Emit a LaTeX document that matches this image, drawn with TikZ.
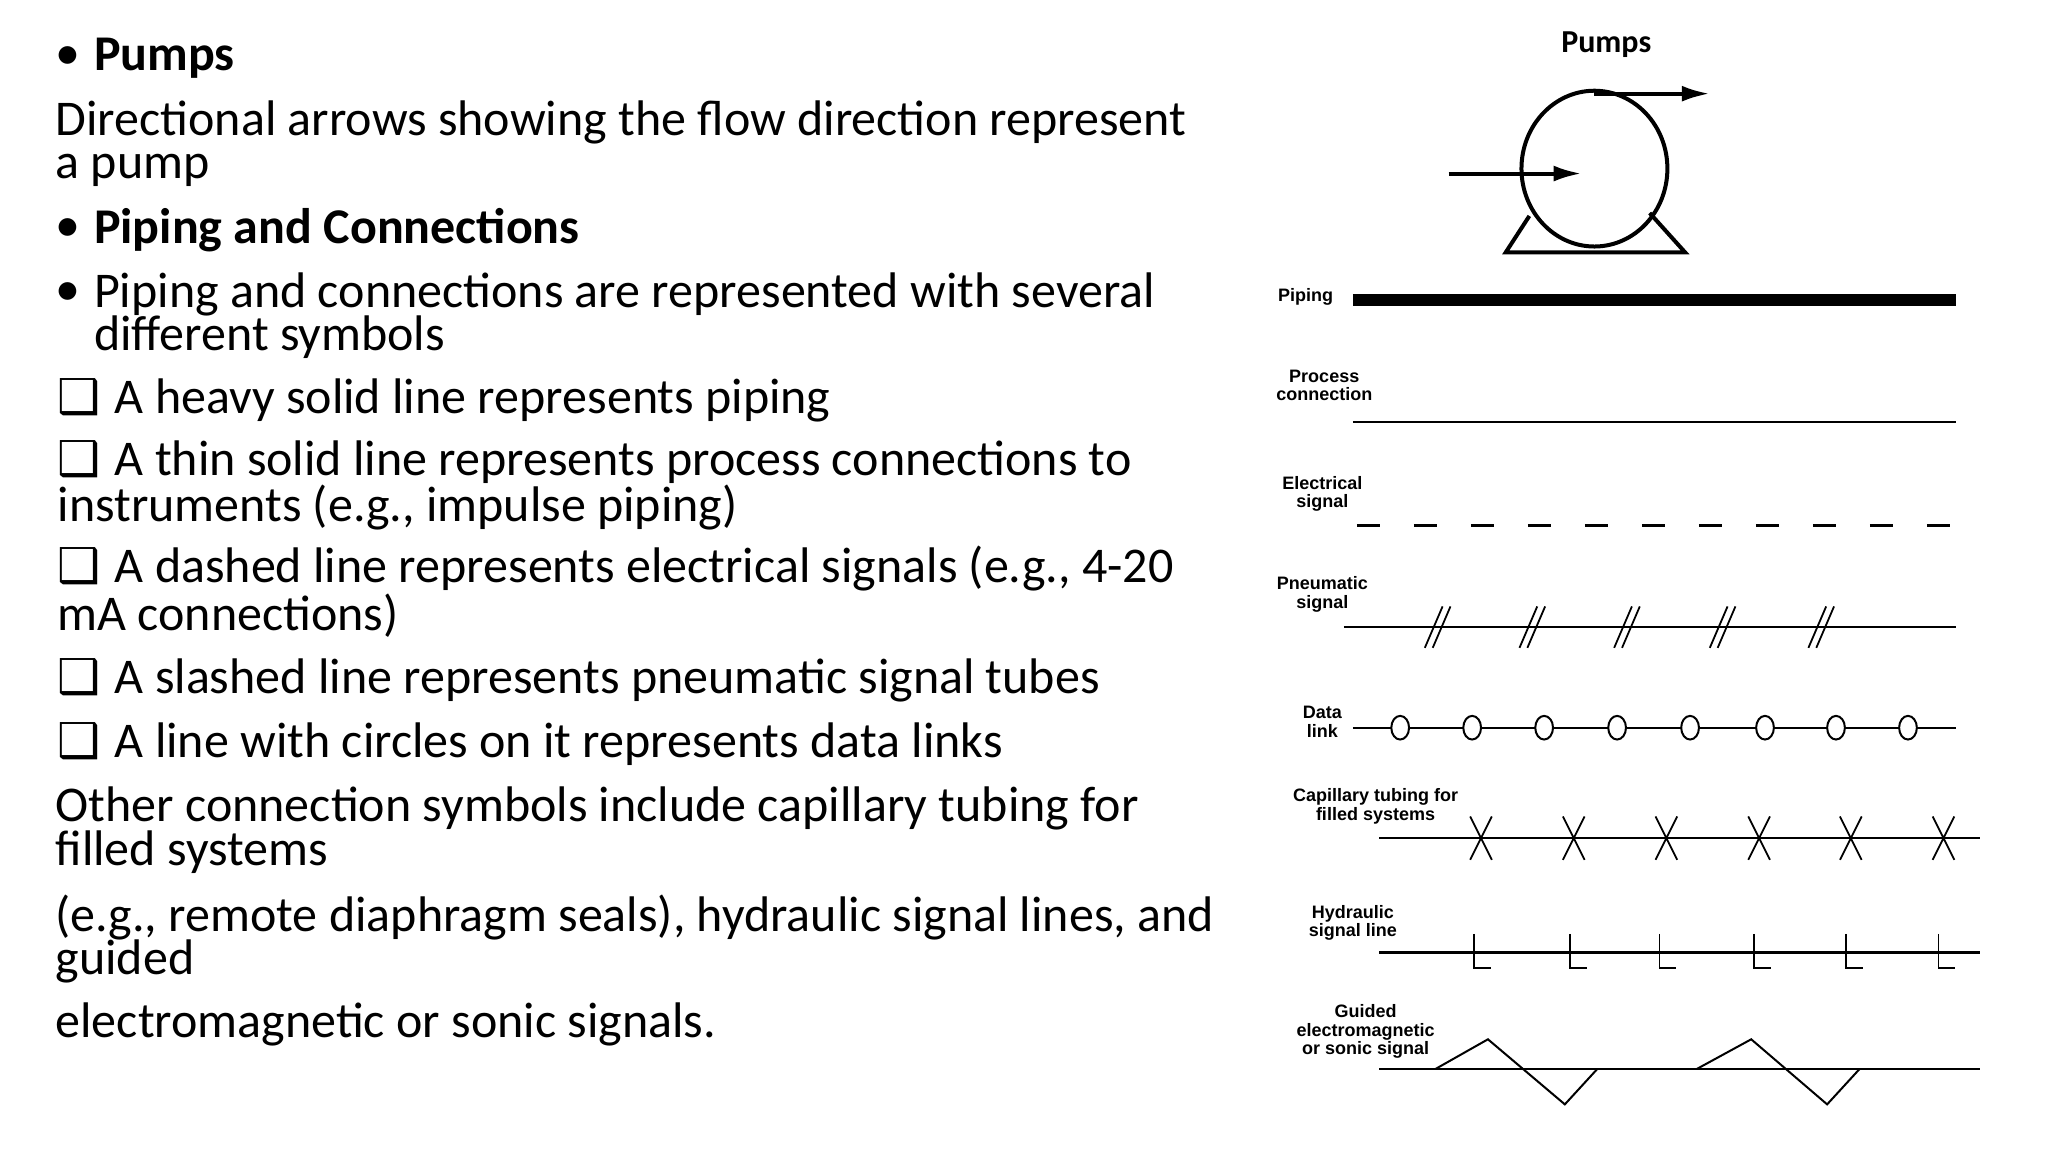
\documentclass[tikz,border=0pt]{standalone}
\usepackage{fontspec}
\setmainfont{Carlito}
\newfontfamily\lab{Liberation Sans}
\newfontfamily\djv{DejaVu Sans}
\usetikzlibrary{arrows.meta}
\newcommand{\qbox}{\makebox[28.6pt][l]{\djv\fontsize{24}{24}\selectfont ❑}}
\begin{document}
\begin{tikzpicture}[x=0.493pt,y=-0.493pt,
  txt/.style={anchor=west,inner sep=0pt,align=left,font=\fontsize{25}{21.7}\selectfont},
  lbl/.style={align=center,inner sep=0pt,font=\lab\bfseries\fontsize{9}{9.3}\selectfont},
  sig/.style={line width=1.2pt},
  pump/.style={line width=2pt}]
\useasboundingbox[fill=white] (0,0) rectangle (2077,1168);
% left text
\node[txt] (b1) at (56,59) {•};
\node[txt,font=\bfseries\fontsize{25}{26}\selectfont] (t1) at (95,59) {Pumps};
\node[txt] (t2) at (56,146) {Directional arrows showing the flow direction represent\\a pump};
\node[txt] (b4) at (56,233) {•};
\node[txt,font=\bfseries\fontsize{25}{26}\selectfont] (t4) at (95,233) {Piping and Connections};
\node[txt] (b5) at (56,298) {•};
\node[txt] (t5) at (95,320) {Piping and connections are represented with several\\different symbols};
\node[txt] (s1) at (58,406) {\qbox A heavy solid line represents piping};
\node[txt] (s2) at (58,492) {\qbox A thin solid line represents process connections to\\instruments (e.g., impulse piping)};
\node[txt] (s3) at (58,600) {\qbox A dashed line represents electrical signals (e.g., 4-20\\mA connections)};
\node[txt] (s4) at (58,690) {\qbox A slashed line represents pneumatic signal tubes};
\node[txt] (s5) at (58,755) {\qbox A line with circles on it represents data links};
\node[txt] (t14) at (56,842) {Other connection symbols include capillary tubing for\\filled systems};
\node[txt] (t16) at (56,952) {(e.g., remote diaphragm seals), hydraulic signal lines, and\\guided};
\node[txt] (t18) at (56,1039) {electromagnetic or sonic signals.};
% pump
\node[font=\bfseries\fontsize{16}{18}\selectfont] (pt) at (1629,45) {Pumps};
\draw[pump] (1617,171) ellipse [x radius=74, y radius=79];
\draw[pump] (1551,219) -- (1527,256) -- (1709,256) -- (1673,216);
\draw[pump,-{Latex[length=14pt,width=8pt]}] (1617,95) -- (1734,95);
\draw[pump,-{Latex[length=14pt,width=8pt]}] (1469,176) -- (1604,176);
% piping
\node[lbl] (l1) at (1324,301) {Piping};
\draw[line width=6pt] (1372,304) -- (1984,304);
\node[lbl] (l2) at (1343,391) {Process\\connection};
\draw[sig] (1372,428) -- (1984,428);
\node[lbl] (l3) at (1341,501) {Electrical\\signal};
\draw[sig,dash pattern=on 11.5pt off 17pt] (1376,533) -- (1984,533);
\node[lbl] (l4) at (1341,603) {Pneumatic\\signal};
\draw[sig] (1363,636) -- (1984,636);
\foreach \x in {1458,1554,1650,1747,1847}{
  \draw[line width=0.9pt] (\x-4+9,615) -- (\x-4-9,657);
  \draw[line width=0.9pt] (\x+4+9,615) -- (\x+4-9,657);
}
\node[lbl] (l5) at (1341,732) {Data\\link};
\draw[sig] (1372,738) -- (1984,738);
\foreach \x in {1420,1493,1566,1640,1714,1790,1862,1935}{
  \draw[line width=1pt,fill=white] (\x,738) ellipse [x radius=9, y radius=12];
}
\node[lbl] (l6) at (1395,818) {Capillary tubing for\\filled systems};
\draw[sig] (1399,850) -- (2008,850);
\foreach \x in {1502,1596,1690,1784,1877,1971}{
  \draw[line width=0.9pt] (\x-11,828) -- (\x+11,872) (\x+11,828) -- (\x-11,872);
}
\node[lbl] (l7) at (1372,936) {Hydraulic\\signal line};
\draw[sig] (1399,966) -- (2008,966);
\foreach \x in {1495,1592,1683,1779,1872,1966}{
  \draw[line width=0.9pt] (\x,947) -- (\x,982) -- (\x+17,982);
}
\node[lbl] (l8) at (1385,1046) {Guided\\electromagnetic\\or sonic signal};
\draw[sig] (1399,1084) -- (2008,1084);
\draw[line width=1pt] (1456,1084) -- (1509,1054) -- (1587,1120) -- (1620,1084);
\draw[line width=1pt] (1721,1084) -- (1776,1054) -- (1853,1120) -- (1886,1084);
\end{tikzpicture}
\end{document}
